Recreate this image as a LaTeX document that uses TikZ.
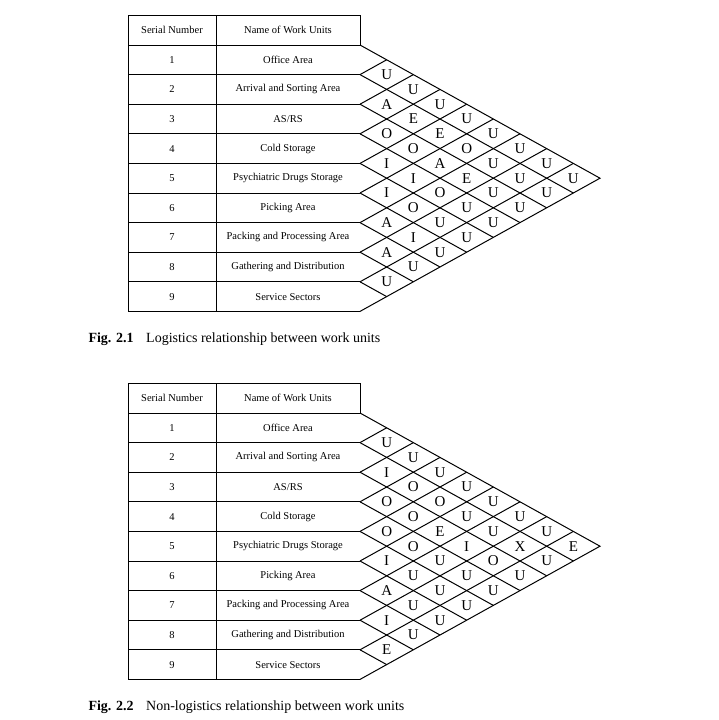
\documentclass[tikz,border=0pt]{standalone}
\usepackage{fontspec}
\setmainfont{Liberation Serif}
\usetikzlibrary{positioning}
\newcommand{\logrel}{{U,U,U,U,U,U,U,U},{A,E,E,O,U,U,U},{O,O,A,E,U,U},{I,I,O,U,U},{I,O,U,U},{A,I,U},{A,U},{U}}
\newcommand{\nonlogrel}{{U,U,U,U,U,U,U,E},{I,O,O,U,U,X,U},{O,O,E,I,O,U},{O,O,U,U,U},{I,U,U,U},{A,U,U},{I,U},{E}}
\newcommand{\unitnames}{Office Area,Arrival and Sorting Area,AS/RS,Cold Storage,Psychiatric Drugs Storage,Picking Area,Packing and Processing Area,Gathering and Distribution,Service Sectors}
\begin{document}
\begin{tikzpicture}[x=1pt,y=-1pt,line width=1pt,
  cell/.style={font=\fontsize{10.5}{12}\selectfont},
  rel/.style={font=\fontsize{15}{18}\selectfont,inner sep=0pt},
  figcap/.style={font=\fontsize{14}{16}\selectfont,anchor=west,inner sep=0pt}]
\useasboundingbox (0,0) rectangle (718,720);
\foreach \ytop/\num/\kind in {15/1/Logistics,383/2/Non-logistics}{
  \ifnum\num=1 \let\rels\logrel \else \let\rels\nonlogrel \fi
  \begin{scope}[yshift=-\ytop pt]
    % table of work units
    \draw (128,0) rectangle (360,30);
    \draw (216,0) -- (216,296.4);
    \draw (128,30) -- (128,296.4);
    \foreach \k in {1,...,9} \draw (128,30+\k*29.6) -- (360,30+\k*29.6);
    \node[cell] (head\num-sn) at (172,15) {Serial Number};
    \node[cell] (head\num-name) at (288,15) {Name of Work Units};
    \foreach \wname [count=\k] in \unitnames {
      \node[cell] (sn\num-\k) at (172,30+\k*29.6-14.8) {\k};
      \node[cell] (unit\num-\k) at (288,30+\k*29.6-14.8) {\wname};
    }
    % relationship diamonds
    \coordinate (apex\num) at (600,163.2);
    \draw (360,30) -- (apex\num) -- (360,296.4);
    \foreach \k in {1,...,8}{
      \draw (360,30+\k*29.6) -- ++({(9-\k)*26.67},{(9-\k)*14.8});
      \draw (360,30+\k*29.6) -- ++({\k*26.67},{-\k*14.8});
    }
    \foreach \row [count=\i] in \rels
      \foreach \c [count=\d] in \row
        \node[rel] (r\num-\i-\d) at ({360+\d*26.67},{30+(2*\i+\d-1)*14.8}) {\c};
  \end{scope}
  \node[figcap] (cap\num) at (88,\ytop+324) {\textbf{Fig. 2.\num}\hspace{0.9em}\kind\ relationship between work units};
}
\end{tikzpicture}
\end{document}
